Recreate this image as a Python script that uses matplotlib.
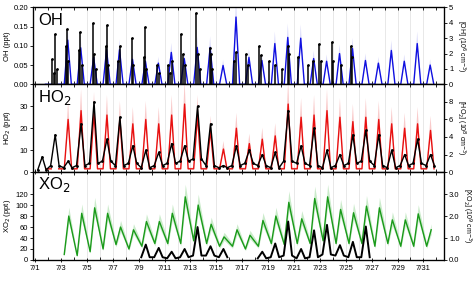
import numpy as np
import matplotlib
matplotlib.use('Agg')
import matplotlib.pyplot as plt
from matplotlib.ticker import MultipleLocator, FormatStrFormatter

plt.rcParams['font.family'] = ['Liberation Sans', 'DejaVu Sans']

# day index 0 = 7/1
days = np.arange(31)
date_labels = ['7/%d' % (d + 1) for d in range(0, 31, 2)]
nan = np.nan

# OH model, daily peak (ppt)
oh_mod_peak = [nan, nan, 0.115, 0.095, 0.07, 0.09, 0.09, 0.065, 0.06, 0.055, 0.083,
               0.067, 0.096, 0.096, 0.049, 0.175, 0.07, 0.062, 0.106, 0.122, 0.12,
               0.067, 0.06, 0.08, 0.093, 0.062, 0.055, 0.088, 0.06, 0.106, 0.05]
# OH observations (spikes)
oh_obs_t = [1.30, 1.45, 1.55, 1.70,
            2.35, 2.45, 2.55,
            3.40, 3.50, 3.60,
            4.45, 4.55, 4.70,
            5.45, 5.55, 5.65,
            6.40, 6.55,
            7.45, 7.60,
            8.40, 8.50, 8.60,
            9.45, 9.55,
            10.30, 10.45, 10.60,
            11.30, 11.45, 11.60,
            12.45, 12.60, 12.70,
            13.50, 13.60, 13.70,
            15.40, 15.55,
            16.30, 16.45,
            17.30, 17.45,
            18.05, 18.50,
            19.10, 19.55, 19.65,
            20.30,
            21.10, 21.45,
            21.95, 22.05,
            22.95, 23.05, 23.60,
            24.40, 24.50]
oh_obs_v = [0.067, 0.03, 0.13, 0.04,
            0.10, 0.145, 0.06,
            0.09, 0.135, 0.05,
            0.16, 0.08, 0.04,
            0.10, 0.155, 0.05,
            0.06, 0.10,
            0.12, 0.05,
            0.07, 0.15, 0.04,
            0.05, 0.03,
            0.05, 0.03, 0.06,
            0.13, 0.08, 0.05,
            0.185, 0.08, 0.04,
            0.095, 0.08, 0.04,
            0.06, 0.085,
            0.08, 0.05,
            0.10, 0.075,
            0.06, 0.05,
            0.04, 0.10, 0.08,
            0.07,
            0.05, 0.06,
            0.105, 0.06,
            0.11, 0.06, 0.05,
            0.10, 0.07]

# HO2 model, daily peak and night level (ppt)
ho2_mod_peak = [nan, nan, 24, 28, 27, 26, 24, 22, 24, 22, 26, 31, 26, 19, 10.5, 20,
                13, 15, 16.5, 31, 25, 26, 28, 25, 23, 25, 24, 22, 20, 22, 19]
ho2_mod_night = 1.5
# HO2 observations, daily peak and night level (ppt)
ho2_obs_peak = [7, 17, 5, 22, 32, 15, 25, 12, 10, 9, 13, 12, 30, 22, 3, 12, 10, 8,
                9, 28, 12, 20, 10, 8, 17, 19, 17, 10, 8, 15, 8]
ho2_obs_night = [1, 3, 2, 3, 4, 5, 3, 4, 2, 3, 4, 5, 6, 3, 2, 3, 4, 3, 2, 5, 4, 3,
                 2, 3, 4, 5, 3, 2, 3, 4, 3]

# XO2 model, daily peak and night minimum (ppt)
xo2_mod_peak = [nan, nan, 80, 85, 95, 85, 60, 55, 70, 70, 85, 115, 100, 65, 42, 55,
                45, 72, 80, 105, 75, 112, 115, 92, 86, 98, 95, 73, 73, 84, 55]
xo2_mod_night = [nan, nan, 10, 8, 15, 20, 28, 20, 25, 30, 30, 30, 35, 30, 25, 25,
                 20, 25, 30, 28, 30, 30, 35, 30, 30, 30, 25, 30, 25, 25, 25]
# XO2 observations
xo2_obs_peak = [nan] * 8 + [28, 22, 15, 20, 60, 25, 20, nan, nan, 15, 30, 70, 20,
                            54, 64, 27, 33, 61] + [nan] * 5
xo2_obs_night = [nan] * 8 + [5, 5, 3, 5, 8, 8, 5, nan, nan, 3, 5, 8, 3, 5, 10, 8,
                             5, 5] + [nan] * 5

# faint markers for selected midnights
mark_days = [4, 5, 6, 7, 10, 11, 12, 14, 20, 22, 23, 24, 25, 27, 28, 29, 30]

ppt_to_cm3 = 2.5e7


def diurnal(peak, night, hours):
    t = (days[:, None] + np.array(hours)[None, :]).ravel()
    n = np.asarray(night, float) * np.ones(31)
    vals = np.column_stack([n, np.asarray(peak, float), n]).ravel()
    return t, vals


fig = plt.figure(figsize=(4.74, 2.86), dpi=100)
gs = fig.add_gridspec(3, 1, height_ratios=[77, 88, 88], hspace=0,
                      left=0.07, right=0.937, top=0.974, bottom=0.091)
axes = [fig.add_subplot(gs[i]) for i in range(3)]
rights = []

# OH
ax = axes[0]
t, y = diurnal(oh_mod_peak, 0.0, [0.25, 0.52, 0.8])
ax.fill_between(t, y, y * 1.3, color='#c4c4f7', lw=0, alpha=0.6)
ax.plot(t, y, color='#1010e0', lw=1.0)
ax.vlines(oh_obs_t, 0, oh_obs_v, color='k', lw=1.1)
ax.plot(oh_obs_t, oh_obs_v, 'k.', ms=2)
ax.set_ylim(0, 0.2)
ax.yaxis.set_major_locator(MultipleLocator(0.05))
ax.yaxis.set_major_formatter(FormatStrFormatter('%.2f'))
ax.set_ylabel('OH (ppt)', fontsize=5.5, labelpad=2)
ax.text(0.012, 0.93, 'OH', transform=ax.transAxes, fontsize=12, va='top')
r = ax.twinx()
r.set_ylim(0, 0.2 * ppt_to_cm3 / 1e6)
r.yaxis.set_major_locator(MultipleLocator(1))
r.set_ylabel('[OH] (10$^6$ cm$^{-3}$)', fontsize=5, rotation=270, labelpad=10)
rights.append(r)

# HO2
ax = axes[1]
t, y = diurnal(ho2_mod_peak, ho2_mod_night, [0.25, 0.55, 0.82])
ax.fill_between(t, y, y * 1.35, color='#f7b4b4', lw=0, alpha=0.7)
ax.plot(t, y, color='#e81010', lw=1.0)
t, y = diurnal(ho2_obs_peak, ho2_obs_night, [0.2, 0.55, 0.85])
ax.plot(t, y, color='k', lw=1.0, marker='.', ms=2)
ax.set_ylim(0, 40)
ax.set_yticks([0, 10, 20, 30])
ax.set_ylabel('HO$_2$ (ppt)', fontsize=5.5, labelpad=5)
ax.text(0.012, 0.96, 'HO$_2$', transform=ax.transAxes, fontsize=12, va='top')
r = ax.twinx()
r.set_ylim(0, 40 * ppt_to_cm3 / 1e8)
r.set_yticks([0, 2, 4, 6, 8])
r.set_ylabel('[HO$_2$] (10$^8$ cm$^{-3}$)', fontsize=5, rotation=270, labelpad=10)
rights.append(r)

# XO2
ax = axes[2]
t = (days[:, None] + np.array([0.25, 0.6])[None, :]).ravel()
y = np.column_stack([xo2_mod_night, xo2_mod_peak]).ravel()
ax.fill_between(t, y * 0.85, y * 1.2, color='#b5e3b5', lw=0, alpha=0.7)
ax.plot(t, y, color='#1a9a1a', lw=1.0)
t, y = diurnal(xo2_obs_peak, xo2_obs_night, [0.2, 0.55, 0.85])
ax.plot(t, y, color='k', lw=1.4)
ax.set_ylim(0, 160)
ax.set_yticks(np.arange(0, 121, 20))
ax.set_ylabel('XO$_2$ (ppt)', fontsize=5.5, labelpad=2)
ax.text(0.012, 0.97, 'XO$_2$', transform=ax.transAxes, fontsize=12, va='top')
r = ax.twinx()
r.set_ylim(0, 160 * ppt_to_cm3 / 1e9)
r.set_yticks([0, 1, 2, 3])
r.yaxis.set_major_formatter(FormatStrFormatter('%.1f'))
r.set_ylabel('[XO$_2$] (10$^9$ cm$^{-3}$)', fontsize=5, rotation=270, labelpad=10)
rights.append(r)

for i, ax in enumerate(axes):
    for d in mark_days:
        ax.axvline(d, color='#e4e4e4', lw=0.6, zorder=0)
    ax.set_xlim(-0.15, 31.6)
    ax.xaxis.set_major_locator(MultipleLocator(2))
    ax.xaxis.set_minor_locator(MultipleLocator(1))
    ax.tick_params(axis='x', which='both', direction='in', top=True, length=2, width=0.6)
    ax.tick_params(axis='y', direction='out', length=2.5, width=0.6, labelsize=5.5, pad=1)
    for s in ax.spines.values():
        s.set_linewidth(0.9)
    if i < 2:
        ax.tick_params(axis='x', labelbottom=False)
axes[2].set_xticks(range(0, 31, 2))
axes[2].set_xticklabels(date_labels, fontsize=5.5)
axes[2].tick_params(axis='x', which='major', direction='inout', length=3, pad=2)
for r in rights:
    r.tick_params(axis='y', direction='out', length=2.5, width=0.6, labelsize=5.5, pad=1)

fig.savefig('out.png', dpi=100)
